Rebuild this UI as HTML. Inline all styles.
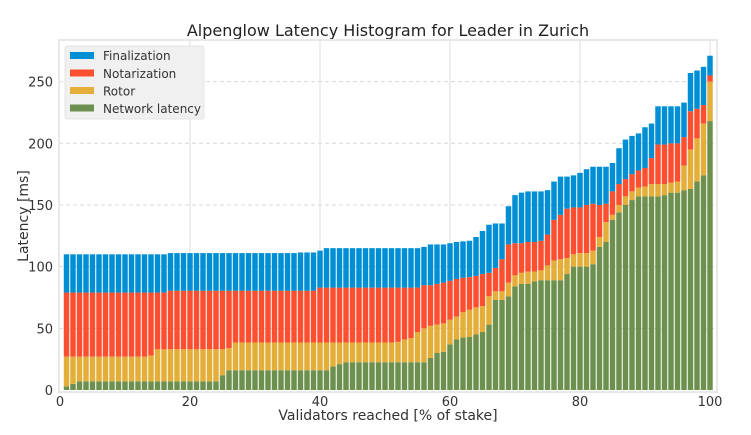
<!DOCTYPE html>
<html><head><meta charset="utf-8"><style>
html,body{margin:0;padding:0;background:#fff;}
svg{display:block;font-family:"DejaVu Sans","Liberation Sans",sans-serif;}
</style></head><body>
<svg id="chart" width="751" height="435" viewBox="0 0 751 435" xmlns="http://www.w3.org/2000/svg">
<rect x="0" y="0" width="751" height="435" fill="#fff"/>
<text x="388" y="36" text-anchor="middle" font-size="16" fill="#222">Alpenglow Latency Histogram for Leader in Zurich</text>
<g id="grid"></g>
<g id="bars"></g>
<rect x="59" y="40" width="658" height="352" fill="none" stroke="#e8e8e8" stroke-width="2"/>
<g id="ticks"></g>
<text x="388" y="420" text-anchor="middle" font-size="14" fill="#333">Validators reached [% of stake]</text>
<text transform="translate(28,216) rotate(-90)" text-anchor="middle" font-size="14" fill="#333">Latency [ms]</text>
<g>
<rect x="65" y="46" width="139" height="73" rx="2" fill="#f0f0f0" stroke="#e4e4e4"/>
<g><rect x="70" y="52" width="24" height="7" fill="#008fd5"/><text x="103" y="60" font-size="12" fill="#333">Finalization</text></g>
<g><rect x="70" y="69.5" width="24" height="7" fill="#fc4f30"/><text x="103" y="78" font-size="12" fill="#333">Notarization</text></g>
<g><rect x="70" y="87" width="24" height="7" fill="#e5ae38"/><text x="103" y="95.5" font-size="12" fill="#333">Rotor</text></g>
<g><rect x="70" y="104.5" width="24" height="7" fill="#6d904f"/><text x="103" y="113" font-size="12" fill="#333">Network latency</text></g>
</g>
</svg>
<script>
const network = [3,5,7,7,7,7,7,7,7,7,7,7,7,7,7,7,7,7,7,7,7,7,7,7,12,16,16,16,16,16,16,16,16,16,16,16,16,16,16,16,16,19,21,22.5,22.5,22.5,22.5,22.5,22.5,22.5,22.5,22.5,22.5,22.5,22.5,22.5,26,30,31,37,41,42.5,43,45,47,53,73,73,76,84,86,86,88,89,89,89,89,94,100,100,100,102,116,120,138,144,150,154,157,157,157,157,158,160,160,162,163,169,174,218];
const rotor = [24,22,20,20,20,20,20,20,20,20,20,20,20,21,26,26,26,26,26,26,26,26,26,26,21,18,22.5,22.5,22.5,22.5,22.5,22.5,22.5,22.5,22.5,22.5,22.5,22.5,22.5,22.5,22.5,19.5,17.5,16,16,16,16,16,16,16,16,16.5,18.5,19.5,24.5,27.5,26,23,23,20,18.5,20.5,22,22,21,23,7,7,11,9,9,10,8,8,12,16,17,13,10,11,11,11,8,16,4,6,7,7,7,8,10,10,9,8,9,20,32,35,42,32];
const notarization = [52,52,52,52,52,52,52,52,52,52,52,52,52,51,46,46,47.5,47.5,47.5,47.5,47.5,47.5,47.5,47.5,47.5,46.5,42,42,42,42,42,42,42,42,42,42,42,42,42,44.5,44.5,44.5,44.5,44.5,44.5,44.5,44.5,44.5,44.5,44.5,44.5,44,42,41,36,35,33,33,33,31.5,30.5,28,26.5,25.5,26,19,19,26,31,26,24,24,24,24,25,33,36,40,38,37,39,38,26,15,19,17,14,14,14,15,21,32,32,32,31,23,31,24,15,5];
const finalization = [31,31,31,31,31,31,31,31,31,31,31,31,31,31,31,31,30.5,30.5,30.5,30.5,30.5,30.5,30.5,30.5,30.5,30.5,30.5,30.5,30.5,30.5,30.5,30.5,30.5,30.5,30.5,30.5,31,31,31,30,32,32,32,32,32,32,32,32,32,32,32,32,32,32,32,31,33,32,31,30.5,30,29.5,29.5,31.5,35,39,36,29,31,39,41,41,41,40,36,31,31,26,26,28,29,30,31,30,23,29,32,31,30,33,28,31,31,30,30,28,31,31,31,16];
const xTicks = [0,20,40,60,80,100];
const yTicks = [0,50,100,150,200,250];
const seriesColors = ["#6d904f","#e5ae38","#fc4f30","#008fd5"];
const seriesNames = ["network","rotor","notarization","finalization"];

const NS = "http://www.w3.org/2000/svg";
const X0 = 60, XS = 6.5, Y0 = 390, YS = 1.2335;
const xPos = v => X0 + v * XS;
const yPos = v => Y0 - v * YS;
function mk(tag, attrs, parent){const e=document.createElementNS(NS,tag);for(const k in attrs)e.setAttribute(k,attrs[k]);parent.appendChild(e);return e;}

const grid = document.getElementById('grid');
const ticks = document.getElementById('ticks');
yTicks.forEach(t=>{
  if(t>0){const l=mk('line',{x1:59,x2:717,y1:yPos(t),y2:yPos(t),stroke:'#d8d8d8','stroke-width':1,'stroke-dasharray':'4,3'},grid);
  
  }
  const tx=mk('text',{x:53,y:yPos(t)+5,'text-anchor':'end','font-size':13,fill:'#333'},ticks);
  tx.textContent=t;
  
  
});
xTicks.forEach(t=>{
  if(t>0){const l=mk('line',{x1:xPos(t),x2:xPos(t),y1:40,y2:392,stroke:'#dcdcdc','stroke-width':1},grid);
  
  }
  const tx=mk('text',{x:xPos(t),y:406,'text-anchor':'middle','font-size':13,fill:'#333'},ticks);
  tx.textContent=t;
  
  
});

const barsG = document.getElementById('bars');
const series = [network, rotor, notarization, finalization];
const bw = 0.84;
for(let i=0;i<network.length;i++){
  let base=0;
  const xc=i+1;
  series.forEach((s,k)=>{
    const v=s[i];
    const r=mk('rect',{x:xPos(xc-bw/2),width:bw*XS,y:yPos(base+v),height:v*YS,fill:seriesColors[k]},barsG);
    
    
    base+=v;
  });
}
</script>
</body></html>
